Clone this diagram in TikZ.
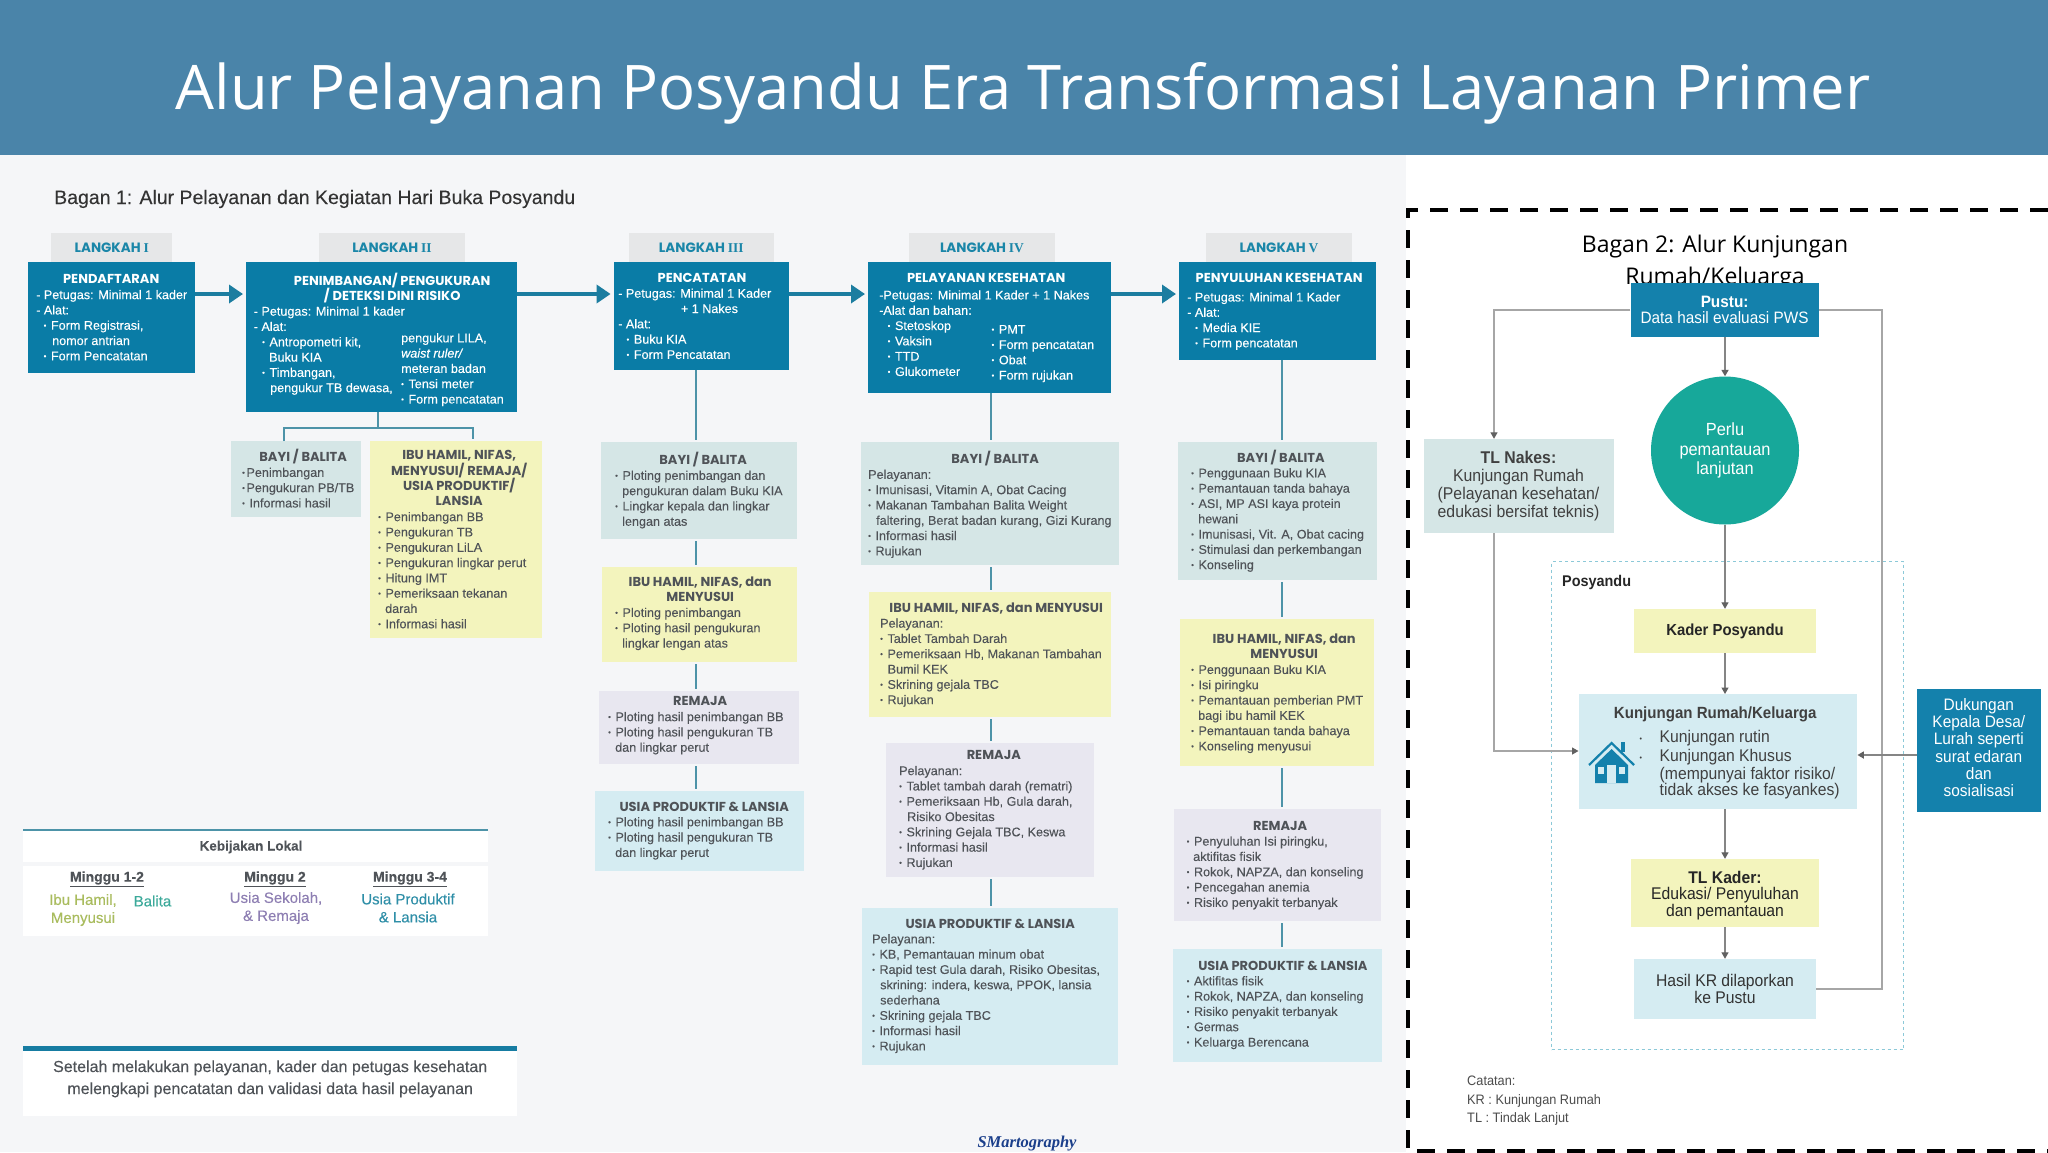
\documentclass[tikz,border=0pt]{standalone}
\usepackage{fontspec}
\usetikzlibrary{arrows.meta}
\setmainfont[FakeBold=0.15]{Liberation Sans}
\newfontfamily\popf{Poppins}
\newfontfamily\opensf{Open Sans}
\newfontfamily\cndf[FakeStretch=0.93]{Liberation Sans}
\newfontfamily\serf{Liberation Serif}
\definecolor{headc}{HTML}{4A84A9}
\definecolor{bgc}{HTML}{F5F6F8}
\definecolor{bluec}{HTML}{0A7CA6}
\definecolor{pustuc}{HTML}{1481AC}
\definecolor{tabc}{HTML}{E6E7E8}
\definecolor{tabt}{HTML}{1A86A8}
\definecolor{bodyc}{HTML}{4F5358}
\definecolor{bayic}{HTML}{D5E6E6}
\definecolor{ibuc}{HTML}{F3F4BD}
\definecolor{remc}{HTML}{E8E7F0}
\definecolor{usiac}{HTML}{D5ECF2}
\definecolor{linec}{HTML}{4D93A8}
\definecolor{tealc}{HTML}{17A89A}
\definecolor{dashc}{HTML}{8CC9D8}
\newcommand{\flow}[8]{% x0 y0 x1 y1 style name firstbaseline content
  \def\ox{#1}%
  \node[#5,anchor=north west,inner sep=0pt] (#6) at (#1,#2) {%
    \begin{minipage}[c][\dimexpr #4pt-#2pt\relax][t]{\dimexpr #3pt-#1pt\relax}%
    \vspace*{\dimexpr #7pt-#2pt-9pt\relax}\noindent\rule{0pt}{9pt}#8%
    \end{minipage}};%
}
\newcommand{\Lti}[2]{\mbox{\hspace*{\dimexpr #1pt-\ox pt\relax}\makebox[0pt][c]{\popf\bfseries\fontsize{13}{13}\selectfont #2}}}
\newcommand{\Ltx}[2]{\mbox{\hspace*{\dimexpr #1pt-\ox pt\relax}#2}}
\newcommand{\Ldot}{\raisebox{1.6pt}{\fontsize{7.5}{7.5}\selectfont •}}
\newcommand{\Lbu}[2]{\mbox{\hspace*{\dimexpr #1pt-\ox pt\relax}\makebox[7.3pt][l]{\Ldot}#2}}
\newcommand{\Lbt}[2]{\mbox{\hspace*{\dimexpr #1pt-\ox pt\relax}\makebox[4.3pt][l]{\Ldot}#2}}
\tikzset{
  bodytxt/.style={font=\fontsize{12.6}{15.3}\selectfont},
  bluebox/.style={fill=bluec,text=white,bodytxt},
  plaintxt/.style={text=white,bodytxt},
  bayibox/.style={fill=bayic,text=bodyc,bodytxt},
  ibubox/.style={fill=ibuc,text=bodyc,bodytxt},
  rembox/.style={fill=remc,text=bodyc,bodytxt},
  usiabox/.style={fill=usiac,text=bodyc,bodytxt},
  tabbox/.style={fill=tabc,text=tabt,inner sep=0pt,font=\popf\bfseries\fontsize{13.5}{13.5}\selectfont},
  vl/.style={draw=linec,line width=2pt,shorten >=2.5pt},
  fat/.style={draw=bluec!85!gray,line width=4pt,shorten >=3pt,-{Triangle[length=14pt,width=18pt]}},
  gl/.style={draw=black!35,line width=1.2pt},
  gtip/.style={-{Triangle[length=6.5pt,width=7pt,color=black!62]}},
  gv/.style={gl,gtip,draw=black!48},
  rbox/.style={inner sep=0pt,align=center,font=\cndf\fontsize{16.5}{16}\selectfont},
  notetxt/.style={inner sep=0pt,anchor=base west,text=black!70,font=\cndf\fontsize{13.7}{16}\selectfont},
  keb/.style={inner sep=0pt,align=center,font=\fontsize{15}{18}\selectfont},
}
\begin{document}
\begin{tikzpicture}[x=1pt,y=-1pt]
\useasboundingbox (0,0) rectangle (2048,1152);
\fill[white] (0,0) rectangle (2048,1152);
\fill[bgc] (0,155) rectangle (1406,1152);
\node[fill=headc,anchor=north west,inner sep=0pt,minimum width=2048pt,minimum height=155pt] (head) at (0,0) {};
\node[text=white,inner sep=0pt,font=\opensf\fontsize{61.5}{70}\selectfont] (title) at (1023,93) {Alur Pelayanan Posyandu Era Transformasi Layanan Primer};
\node[anchor=base west,inner sep=0pt,text=black!80,font=\fontsize{19.5}{22}\selectfont] (bag1) at (54,204) {Bagan 1: Alur Pelayanan dan Kegiatan Hari Buka Posyandu};
% tabs
\node[tabbox,minimum width=121.5pt,minimum height=29pt] (t1) at (111.7,247.5) {\raisebox{-2pt}{LANGKAH {\serf I}}};
\node[tabbox,minimum width=146pt,minimum height=29pt] (t2) at (392,247.5) {\raisebox{-2pt}{LANGKAH {\serf II}}};
\node[tabbox,minimum width=144.6pt,minimum height=29pt] (t3) at (701.3,247.5) {\raisebox{-2pt}{LANGKAH {\serf III}}};
\node[tabbox,minimum width=146pt,minimum height=29pt] (t4) at (982,247.5) {\raisebox{-2pt}{LANGKAH {\serf IV}}};
\node[tabbox,minimum width=146pt,minimum height=29pt] (t5) at (1279,247.5) {\raisebox{-2pt}{LANGKAH {\serf V}}};
% main blue boxes
\flow{28}{262}{195}{373}{bluebox}{b1}{283.5}{\Lti{111}{PENDAFTARAN}\\
\Ltx{36}{- Petugas: Minimal 1 kader}\\
\Ltx{36}{- Alat:}\\
\Lbu{43.5}{Form Registrasi,}\\
\Ltx{52}{nomor antrian}\\
\Lbu{43.5}{Form Pencatatan}}
\flow{246}{262}{517}{412}{bluebox}{b2}{281.5}{\Lti{392}{PENIMBANGAN/ PENGUKURAN}\\
\Lti{392}{/ DETEKSI DINI RISIKO}\\
\Ltx{253.6}{- Petugas: Minimal 1 kader}\\
\Ltx{253.6}{- Alat:}\\
\Lbu{262}{Antropometri kit,}\\
\Ltx{269}{Buku KIA}\\
\Lbu{262}{Timbangan,}\\
\Ltx{270}{pengukur TB dewasa,}}
\flow{401}{325}{515}{405}{plaintxt}{b2r}{342}{\Ltx{401}{pengukur LILA,}\\
\Ltx{401}{\itshape waist ruler/}\\
\Ltx{401}{meteran badan}\\
\Lbu{401}{Tensi meter}\\
\Lbu{401}{Form pencatatan}}
\flow{613.6}{262}{789}{370}{bluebox}{b3}{282}{\Lti{701.8}{PENCATATAN}\\
\Ltx{618}{- Petugas: Minimal 1 Kader}\\
\Ltx{680.7}{+ 1 Nakes}\\
\Ltx{618}{- Alat:}\\
\Lbu{626.4}{Buku KIA}\\
\Lbu{626.4}{Form Pencatatan}}
\flow{868}{262}{1111}{393}{bluebox}{b4}{282}{\Lti{986}{PELAYANAN KESEHATAN}\\[1.7pt]
\Ltx{879}{-Petugas: Minimal 1 Kader + 1 Nakes}\\
\Ltx{879}{-Alat dan bahan:}\\
\Lbu{887.5}{Stetoskop}\\
\Lbu{887.5}{Vaksin}\\
\Lbu{887.5}{TTD}\\
\Lbu{887.5}{Glukometer}}
\flow{991}{320}{1108}{390}{plaintxt}{b4r}{333.5}{\Lbu{991.4}{PMT}\\
\Lbu{991.4}{Form pencatatan}\\
\Lbu{991.4}{Obat}\\
\Lbu{991.4}{Form rujukan}}
\flow{1179}{262}{1376}{360}{bluebox}{b5}{282}{\Lti{1279}{PENYULUHAN KESEHATAN}\\[3.7pt]
\Ltx{1187}{- Petugas: Minimal 1 Kader}\\
\Ltx{1187}{- Alat:}\\
\Lbu{1195}{Media KIE}\\
\Lbu{1195}{Form pencatatan}}
% column II
\flow{231}{441}{361}{517}{bayibox}{bay2}{458}{\Lti{303}{BAYI / BALITA}\\
\Lbt{242}{Penimbangan}\\
\Lbt{242}{Pengukuran PB/TB}\\
\Lbu{242}{Informasi hasil}}
\flow{370}{441}{542}{638}{ibubox}{ibu2}{459.5}{\Lti{459}{IBU HAMIL, NIFAS,}\\
\Lti{459}{MENYUSUI/ REMAJA/}\\
\Lti{459}{USIA PRODUKTIF/}\\
\Lti{459}{LANSIA}\\
\Lbu{378}{Penimbangan BB}\\
\Lbu{378}{Pengukuran TB}\\
\Lbu{378}{Pengukuran LiLA}\\
\Lbu{378}{Pengukuran lingkar perut}\\
\Lbu{378}{Hitung IMT}\\
\Lbu{378}{Pemeriksaan tekanan}\\
\Ltx{385}{darah}\\
\Lbu{378}{Informasi hasil}}
% column III
\flow{601}{442}{797}{539}{bayibox}{bay3}{461}{\Lti{703}{BAYI / BALITA}\\
\Lbu{615}{Ploting penimbangan dan}\\
\Ltx{622}{pengukuran dalam Buku KIA}\\
\Lbu{615}{Lingkar kepala dan lingkar}\\
\Ltx{622}{lengan atas}}
\flow{602}{567}{797}{662}{ibubox}{ibu3}{585.5}{\Lti{700}{IBU HAMIL, NIFAS, dan}\\
\Lti{700}{MENYUSUI}\\
\Lbu{615}{Ploting penimbangan}\\
\Lbu{615}{Ploting hasil pengukuran}\\
\Ltx{622}{lingkar lengan atas}}
\flow{599}{691}{798.6}{764}{rembox}{rem3}{705.5}{\Lti{700}{REMAJA}\\
\Lbu{608}{Ploting hasil penimbangan BB}\\
\Lbu{608}{Ploting hasil pengukuran TB}\\
\Ltx{615}{dan lingkar perut}}
\flow{595}{791}{803.6}{871}{usiabox}{usi3}{810.5}{\Lti{704}{USIA PRODUKTIF \& LANSIA}\\
\Lbu{608}{Ploting hasil penimbangan BB}\\
\Lbu{608}{Ploting hasil pengukuran TB}\\
\Ltx{615}{dan lingkar perut}}
% column IV
\flow{861}{442}{1119}{565}{bayibox}{bay4}{460}{\Lti{995}{BAYI / BALITA}\\
\Ltx{868}{Pelayanan:}\\
\Lbu{868}{Imunisasi, Vitamin A, Obat Cacing}\\
\Lbu{868}{Makanan Tambahan Balita Weight}\\
\Ltx{876}{faltering, Berat badan kurang, Gizi Kurang}\\
\Lbu{868}{Informasi hasil}\\
\Lbu{868}{Rujukan}}
\flow{869}{592}{1111}{717}{ibubox}{ibu4}{611.5}{\Lti{996}{IBU HAMIL, NIFAS, dan MENYUSUI}\\
\Ltx{880}{Pelayanan:}\\
\Lbu{880}{Tablet Tambah Darah}\\
\Lbu{880}{Pemeriksaan Hb, Makanan Tambahan}\\
\Ltx{887.5}{Bumil KEK}\\
\Lbu{880}{Skrining gejala TBC}\\
\Lbu{880}{Rujukan}}
\flow{886}{743}{1094}{877}{rembox}{rem4}{759.5}{\Lti{993.6}{REMAJA}\\
\Ltx{899}{Pelayanan:}\\
\Lbu{899}{Tablet tambah darah (rematri)}\\
\Lbu{899}{Pemeriksaan Hb, Gula darah,}\\
\Ltx{907}{Risiko Obesitas}\\
\Lbu{899}{Skrining Gejala TBC, Keswa}\\
\Lbu{899}{Informasi hasil}\\
\Lbu{899}{Rujukan}}
\flow{862}{908}{1118}{1065}{usiabox}{usi4}{927.5}{\Lti{990}{USIA PRODUKTIF \& LANSIA}\\
\Ltx{872}{Pelayanan:}\\
\Lbu{872}{KB, Pemantauan minum obat}\\
\Lbu{872}{Rapid test Gula darah, Risiko Obesitas,}\\
\Ltx{880}{skrining: indera, keswa, PPOK, lansia}\\
\Ltx{880}{sederhana}\\
\Lbu{872}{Skrining gejala TBC}\\
\Lbu{872}{Informasi hasil}\\
\Lbu{872}{Rujukan}}
% column V
\flow{1178}{442}{1377}{580}{bayibox}{bay5}{458.5}{\Lti{1280.7}{BAYI / BALITA}\\
\Lbu{1191}{Penggunaan Buku KIA}\\
\Lbu{1191}{Pemantauan tanda bahaya}\\
\Lbu{1191}{ASI, MP ASI kaya protein}\\
\Ltx{1198}{hewani}\\
\Lbu{1191}{Imunisasi, Vit. A, Obat cacing}\\
\Lbu{1191}{Stimulasi dan perkembangan}\\
\Lbu{1191}{Konseling}}
\flow{1180}{619}{1374}{766}{ibubox}{ibu5}{642.5}{\Lti{1284}{IBU HAMIL, NIFAS, dan}\\
\Lti{1284}{MENYUSUI}\\
\Lbu{1191}{Penggunaan Buku KIA}\\
\Lbu{1191}{Isi piringku}\\
\Lbu{1191}{Pemantauan pemberian PMT}\\
\Ltx{1198}{bagi ibu hamil KEK}\\
\Lbu{1191}{Pemantauan tanda bahaya}\\
\Lbu{1191}{Konseling menyusui}}
\flow{1174}{809}{1381}{921}{rembox}{rem5}{830}{\Lti{1280}{REMAJA}\\
\Lbu{1186.5}{Penyuluhan Isi piringku,}\\
\Ltx{1193}{aktifitas fisik}\\
\Lbu{1186.5}{Rokok,  NAPZA, dan konseling}\\
\Lbu{1186.5}{Pencegahan anemia}\\
\Lbu{1186.5}{Risiko penyakit terbanyak}}
\flow{1173}{949}{1382}{1062}{usiabox}{usi5}{969.5}{\Lti{1282.7}{USIA PRODUKTIF \& LANSIA}\\
\Lbu{1186.5}{Aktifitas fisik}\\
\Lbu{1186.5}{Rokok, NAPZA, dan konseling}\\
\Lbu{1186.5}{Risiko penyakit terbanyak}\\
\Lbu{1186.5}{Germas}\\
\Lbu{1186.5}{Keluarga Berencana}}
% connectors, Bagan 1
\coordinate (ay) at (0,294);
\draw[fat] (b1.east |- ay) -- (b2.west |- ay);
\draw[fat] (b2.east |- ay) -- (b3.west |- ay);
\draw[fat] (b3.east |- ay) -- (b4.west |- ay);
\draw[fat] (b4.east |- ay) -- (b5.west |- ay);
\coordinate (brm) at (378,428);
\coordinate (brl) at (283.5,428);
\coordinate (brr) at (473,428);
\draw[vl,shorten >=0pt] (b2.south -| brm) -- (brm);
\draw[vl] (bay2.north -| brl) -- (brl) -- (brr) -- (ibu2.north -| brr);
\coordinate (c3) at (696,0);
\draw[vl] (b3.south -| c3) -- (bay3.north -| c3);
\draw[vl,shorten <=2pt] (bay3.south -| c3) -- (ibu3.north -| c3);
\draw[vl,shorten <=2pt] (ibu3.south -| c3) -- (rem3.north -| c3);
\draw[vl,shorten <=2pt] (rem3.south -| c3) -- (usi3.north -| c3);
\coordinate (c4) at (991,0);
\draw[vl] (b4.south -| c4) -- (bay4.north -| c4);
\draw[vl,shorten <=2pt] (bay4.south -| c4) -- (ibu4.north -| c4);
\draw[vl,shorten <=2pt] (ibu4.south -| c4) -- (rem4.north -| c4);
\draw[vl,shorten <=2pt] (rem4.south -| c4) -- (usi4.north -| c4);
\coordinate (c5) at (1282,0);
\draw[vl] (b5.south -| c5) -- (bay5.north -| c5);
\draw[vl,shorten <=2pt] (bay5.south -| c5) -- (ibu5.north -| c5);
\draw[vl,shorten <=2pt] (ibu5.south -| c5) -- (rem5.north -| c5);
\draw[vl,shorten <=2pt] (rem5.south -| c5) -- (usi5.north -| c5);
% Kebijakan Lokal
\node[fill=white,anchor=north west,inner sep=0pt,minimum width=465pt,minimum height=32pt] (kebhead) at (23,830) {};
\node[fill=white,anchor=north west,inner sep=0pt,minimum width=465pt,minimum height=70pt] (kebbody) at (23,866) {};
\draw[draw=linec,line width=2pt] (kebhead.north west) -- (kebhead.north east);
\node[keb,text=bodyc,font=\bfseries\fontsize{13.5}{16}\selectfont] (kl) at (251,847) {Kebijakan Lokal};
\node[keb,text=bodyc,font=\bfseries\fontsize{14}{16}\selectfont] (m1) at (107,879) {\underline{Minggu 1-2}};
\node[keb,text=bodyc,font=\bfseries\fontsize{14}{16}\selectfont] (m2) at (275,879) {\underline{Minggu 2}};
\node[keb,text=bodyc,font=\bfseries\fontsize{14}{16}\selectfont] (m3) at (410,879) {\underline{Minggu 3-4}};
\node[keb,text={rgb,255:red,169;green,188;blue,94}] (k1) at (83,910) {Ibu Hamil,\\Menyusui};
\node[keb,text={rgb,255:red,59;green,169;blue,154}] (k2) at (152.5,901) {Balita};
\node[keb,text={rgb,255:red,142;green,127;blue,179}] (k3) at (276,908) {Usia Sekolah,\\\& Remaja};
\node[keb,text={rgb,255:red,47;green,143;blue,168}] (k4) at (408,908) {Usia Produktif\\\& Lansia};
% closing note
\node[fill=white,anchor=north west,inner sep=0pt,minimum width=494pt,minimum height=68pt,align=center,text=bodyc,font=\fontsize{16}{22}\selectfont] (closing) at (23,1048) {Setelah melakukan pelayanan, kader dan petugas kesehatan\\melengkapi pencatatan dan validasi data hasil pelayanan\rule[-10pt]{0pt}{1pt}};
\draw[draw=bluec!90!gray,line width=5pt] (closing.north west) -- (closing.north east);
\node[inner sep=0pt,text={rgb,255:red,27;green,63;blue,139},font=\serf\bfseries\itshape\fontsize{16.5}{15}\selectfont] (wm) at (1027,1144) {SMartography};
% Bagan 2 frame
\draw[black,line width=4pt,dash pattern=on 18pt off 12pt] (2048,210) -- (1408,210) -- (1408,1151) -- (2048,1151);
\node[inner sep=0pt,align=center,text=black,font=\opensf\fontsize{23}{32}\selectfont] (bag2) at (1715,263) {Bagan 2: Alur Kunjungan\\Rumah/Keluarga};
\node[draw=dashc,dashed,line width=1pt,anchor=north west,inner sep=0pt,minimum width=352pt,minimum height=488pt] (posy) at (1551,561) {};
\node[anchor=base west,inner sep=0pt,text=black!85,font=\cndf\bfseries\fontsize{15.5}{16}\selectfont] (posl) at (1562,586) {Posyandu};
\node[rbox,fill=pustuc,text=white,minimum width=188pt,minimum height=54pt] (pustu) at (1724.6,310) {\textbf{Pustu:}\\Data hasil evaluasi PWS};
\node[circle,fill=tealc,text=white,inner sep=0pt,minimum size=148pt,align=center,font=\cndf\fontsize{17.6}{19.5}\selectfont] (perlu) at (1725,450.5) {Perlu\\pemantauan\\lanjutan};
\node[rbox,fill=bayic,text=black!75,minimum width=190pt,minimum height=94pt,font=\cndf\fontsize{17}{18}\selectfont] (nakes) at (1518.5,486) {\textbf{TL Nakes:}\\Kunjungan Rumah\\(Pelayanan kesehatan/\\edukasi bersifat teknis)};
\node[rbox,fill=ibuc,text=black!85,minimum width=182pt,minimum height=44pt,font=\cndf\bfseries\fontsize{16}{18}\selectfont] (kader) at (1725,631) {Kader Posyandu};
\flow{1578.5}{694}{1857}{809}{fill=usiac,text=black!75,font=\cndf\fontsize{16.9}{17}\selectfont}{kr}{716}{\mbox{\hspace*{\dimexpr 1715pt-\ox pt\relax}\makebox[0pt][c]{\bfseries\fontsize{16.2}{17}\selectfont Kunjungan Rumah/Keluarga}}\\[7pt]
\Ltx{1639.5}{\makebox[20pt][l]{\Ldot}Kunjungan rutin}\\[2pt]
\Ltx{1639.5}{\makebox[20pt][l]{\Ldot}Kunjungan Khusus}\\[1pt]
\Ltx{1659.5}{(mempunyai faktor risiko/}\\[-1pt]
\Ltx{1659.5}{tidak akses ke fasyankes)}}
\fill[pustuc] (1595,765) -- (1611.6,749) -- (1628,765) -- (1628,783) -- (1595,783) -- cycle;
\draw[pustuc,line width=2.2pt] (1589,765) -- (1611.6,743) -- (1634,765);
\fill[pustuc] (1621,742) rectangle (1625,752);
\fill[usiac] (1598,767) rectangle (1604,774);
\fill[usiac] (1619,767) rectangle (1625,774);
\fill[usiac] (1607,765) rectangle (1616,783);
\node[rbox,fill=ibuc,text=black!85,minimum width=188pt,minimum height=68pt,font=\cndf\fontsize{16.9}{16.5}\selectfont] (tlk) at (1725,893) {\rule{0pt}{17pt}\textbf{TL Kader:}\\Edukasi/ Penyuluhan\\dan pemantauan};
\node[rbox,fill=usiac,text=black!80,minimum width=182pt,minimum height=60pt,font=\cndf\fontsize{16.9}{15.5}\selectfont] (hasil) at (1725,989) {Hasil KR dilaporkan\\ke Pustu};
\node[rbox,fill=pustuc,text=white,minimum width=123.5pt,minimum height=123pt,font=\cndf\fontsize{16.6}{17.2}\selectfont] (duk) at (1978.8,750.5) {Dukungan\\Kepala Desa/\\Lurah seperti\\surat edaran\\dan\\sosialisasi\rule[-6pt]{0pt}{1pt}};
\node[notetxt] (cat1) at (1467,1085) {Catatan:};
\node[notetxt] (cat2) at (1467,1104) {KR : Kunjungan Rumah};
\node[notetxt] (cat3) at (1467,1122) {TL : Tindak Lanjut};
% connectors, Bagan 2
\coordinate (cx) at (1725,0);
\coordinate (lx) at (1494,0);
\coordinate (rx) at (1882,0);
\coordinate (ky) at (0,751);
\coordinate (dy) at (0,755);
\draw[gv,line width=2pt] (pustu.south -| cx) -- (perlu.north);
\draw[gl,gtip] (pustu.west) -| (nakes.north -| lx);
\draw[gl] (pustu.east) -- (pustu.east -| rx) -- (hasil.east -| rx) -- (hasil.east);
\draw[gl,gtip] (nakes.south -| lx) |- (kr.west |- ky);
\draw[gv] (perlu.south) -- (kader.north -| cx);
\draw[gv] (kader.south -| cx) -- (kr.north -| cx);
\draw[gv] (kr.south -| cx) -- (tlk.north -| cx);
\draw[gv] (tlk.south -| cx) -- (hasil.north -| cx);
\draw[gv,line width=1.6pt] (duk.west |- dy) -- (kr.east |- dy);
\end{tikzpicture}
\end{document}
